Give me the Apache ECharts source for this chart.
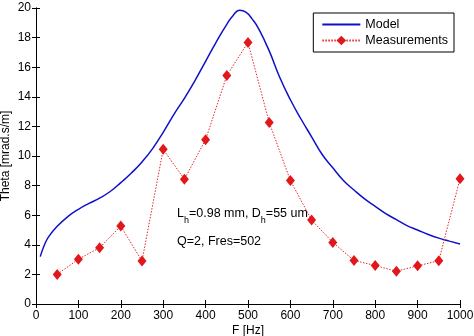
<!DOCTYPE html>
<html>
<head>
<meta charset="utf-8">
<script src="https://cdn.jsdelivr.net/npm/echarts@6/dist/echarts.min.js"></script>
<style>
html,body{margin:0;padding:0;background:#fff;}
#c{width:474px;height:336px;}
</style>
</head>
<body>
<div id="c"></div>
<script>
// Model curve
const modelFreq = [10,20,30,50,75,100,125,150,175,200,225,250,275,300,325,350,375,400,425,450,465,480,495,510,525,550,575,600,625,650,675,700,725,750,775,800,825,850,875,900,925,950,975,1000];
const modelTheta = [3.2,4.0,4.55,5.25,5.9,6.4,6.8,7.15,7.6,8.2,8.85,9.6,10.5,11.6,12.8,13.9,15.1,16.4,17.7,18.9,19.5,19.85,19.72,19.25,18.6,17.1,15.3,13.8,12.5,11.3,10.1,9.2,8.35,7.7,7.1,6.6,6.1,5.7,5.3,5.0,4.7,4.45,4.25,4.05];
// Measurements
const measFreq = [50,100,150,200,250,300,350,400,450,500,550,600,650,700,750,800,850,900,950,1000];
const measTheta = [2.0,3.03,3.8,5.27,2.9,10.45,8.43,11.1,15.44,17.67,12.27,8.34,5.67,4.16,2.94,2.6,2.21,2.58,2.92,8.47];
// Axis ticks
const xTicks = [0,100,200,300,400,500,600,700,800,900,1000];
const yTicks = [0,2,4,6,8,10,12,14,16,18,20];
const seriesNames = ['Model','Measurements'];
const xLabel = 'F [Hz]';
const yLabel = 'Theta [mrad.s/m]';

const FONT = 'Liberation Sans, Arial, sans-serif';
const chart = echarts.init(document.getElementById('c'), null, {renderer:'canvas'});
const xStep = xTicks[1]-xTicks[0], yStep = yTicks[1]-yTicks[0];
const axisCommon = {
  axisLine:{show:true,lineStyle:{color:'#000',width:1}},
  axisTick:{show:true,inside:true,length:4,lineStyle:{color:'#000'}},
  splitLine:{show:false}
};
chart.setOption({
  backgroundColor:'#fff',
  animation:false,
  grid:{left:36,right:14,top:8,bottom:32,containLabel:false,outerBoundsMode:'none'},
  xAxis:[
    Object.assign({type:'value',min:xTicks[0],max:xTicks[xTicks.length-1],interval:xStep,position:'bottom',
      name:xLabel,nameLocation:'middle',nameGap:21,nameMoveOverlap:false,
      nameTextStyle:{fontFamily:FONT,fontSize:12,color:'#000'},
      axisLabel:{fontFamily:FONT,fontSize:12,color:'#000',margin:6,formatter:v=>String(v)}},axisCommon),
    Object.assign({type:'value',min:xTicks[0],max:xTicks[xTicks.length-1],interval:xStep,position:'top',
      axisLabel:{show:false}},axisCommon)
  ],
  yAxis:[
    Object.assign({type:'value',min:yTicks[0],max:yTicks[yTicks.length-1],interval:yStep,position:'left',
      name:yLabel,nameLocation:'middle',nameGap:24,nameMoveOverlap:false,
      nameTextStyle:{fontFamily:FONT,fontSize:12,color:'#000'},
      axisLabel:{fontFamily:FONT,fontSize:12,color:'#000',margin:5,formatter:v=>String(v)}},axisCommon),
    Object.assign({type:'value',min:yTicks[0],max:yTicks[yTicks.length-1],interval:yStep,position:'right',
      axisLabel:{show:false}},axisCommon)
  ],
  legend:{
    right:20,top:13,orient:'vertical',
    backgroundColor:'#fff',borderColor:'#000',borderWidth:1,
    padding:[5,6,5,8],itemGap:3,itemWidth:38,itemHeight:12,
    align:'left',
    textStyle:{fontFamily:FONT,fontSize:12.5,color:'#000'},
    data:[{name:seriesNames[0],itemStyle:{color:'rgba(0,0,0,0)',borderColor:'rgba(0,0,0,0)',borderWidth:0}},
          {name:seriesNames[1]}]
  },
  series:[
    {name:seriesNames[0],type:'line',smooth:true,symbol:'none',
      data:modelFreq.map((f,i)=>[f,modelTheta[i]]),
      lineStyle:{color:'#1010c8',width:1.5},itemStyle:{color:'#1010c8'}},
    {name:seriesNames[1],type:'line',symbol:'diamond',symbolSize:[9,11],
      data:measFreq.map((f,i)=>[f,measTheta[i]]),
      lineStyle:{color:'#e8262a',width:1,type:[1.5,1.5]},
      itemStyle:{color:'#e0181c',borderWidth:0}}
  ],
  graphic:[
    {type:'text',left:177,top:207,style:{
      text:'{n|L}{s|h}{n|=0.98 mm, D}{s|h}{n|=55 um}',
      rich:{n:{fontFamily:FONT,fontSize:12.5,fill:'#000',lineHeight:16,verticalAlign:'top'},
            s:{fontFamily:FONT,fontSize:9,fill:'#000',lineHeight:16,padding:[9,0,0,0],verticalAlign:'top'}}}},
    {type:'text',left:177,top:235,style:{text:'Q=2, Fres=502',fontFamily:FONT,fontSize:12.5,fill:'#000'}}
  ]
});
</script>
</body>
</html>
